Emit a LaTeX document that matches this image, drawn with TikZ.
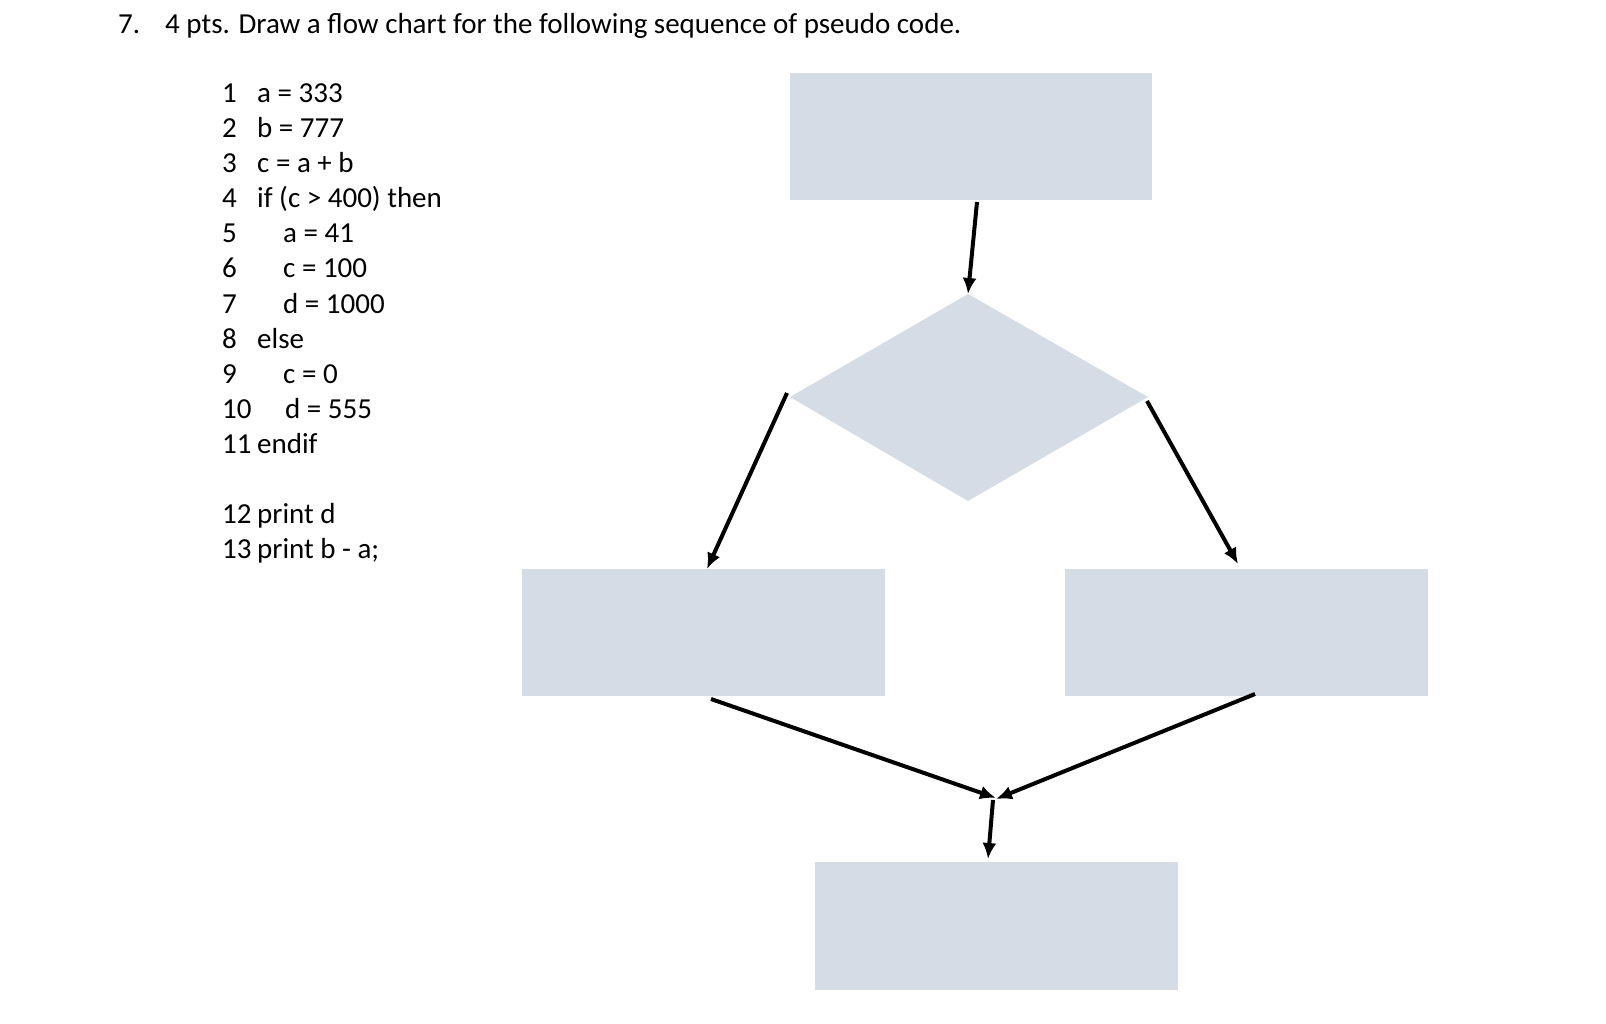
\documentclass[tikz,border=0pt]{standalone}
\usepackage{fontspec}
\setmainfont{Carlito}
\usetikzlibrary{arrows.meta}
\begin{document}
\begin{tikzpicture}[x=1pt,y=-1pt,
  box/.style={fill=boxc,draw=none},
  arr/.style={-{Latex[length=16pt,width=14pt]},line width=4pt},
  txt/.style={anchor=base west,inner sep=0pt,font=\fontsize{29}{34}\selectfont}]
\definecolor{boxc}{HTML}{D6DCE5}
\useasboundingbox (0,0) rectangle (1606,1024);
\node[txt] (t7) at (118,34) {7.};
\node[txt] (title) at (165,34) {4 pts. Draw a flow chart for the following sequence of pseudo code.};
\foreach \n/\t/\x/\y in {1/a = 333/257/103, 2/b = 777/257/138, 3/c = a + b/257/173, 4/if (c > 400) then/257/208, 5/a = 41/283/243, 6/c = 100/283/278, 7/d = 1000/283/313, 8/else/257/348, 9/c = 0/283/383, 10/d = 555/285/418, 11/endif/257/453, 12/print d/257/523, 13/print b - a;/257/558}{
  \node[txt] (n\n) at (222,\y) {\n};
  \node[txt] (c\n) at (\x,\y) {\t};
}
\fill[boxc] (790,73) rectangle (1152,200);
\fill[boxc] (968,294) -- (1148,397) -- (968,501) -- (790,397) -- cycle;
\fill[boxc] (522,569) rectangle (885,696);
\fill[boxc] (1065,569) rectangle (1428,696);
\fill[boxc] (815,862) rectangle (1178,990);
\coordinate (a1) at (977,202); \coordinate (b1) at (968,294);
\coordinate (a2) at (787,393); \coordinate (b2) at (707,569);
\coordinate (a3) at (1147,401); \coordinate (b3) at (1238,564);
\coordinate (a4) at (711,699); \coordinate (b4) at (996,798);
\coordinate (a5) at (1255,694); \coordinate (b5) at (996,799);
\coordinate (a6) at (993,800); \coordinate (b6) at (988,859);
\foreach \i in {1,...,6} \draw[arr] (a\i) -- (b\i);
\end{tikzpicture}
\end{document}
